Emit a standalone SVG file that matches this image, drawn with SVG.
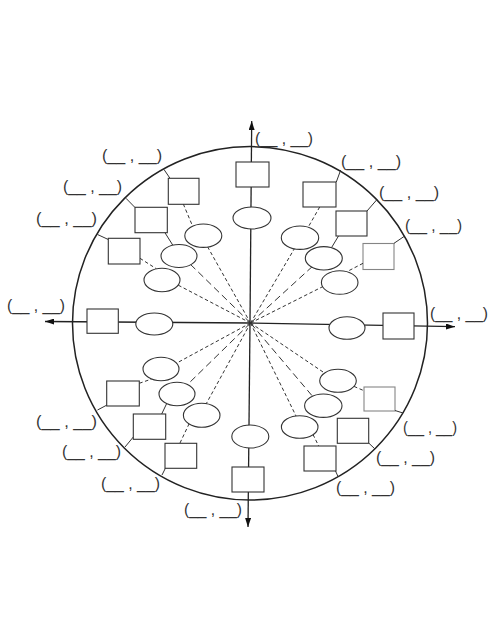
<svg xmlns="http://www.w3.org/2000/svg" width="497" height="640" viewBox="0 0 497 640">
<style>
.box{fill:#fff;stroke:#333;stroke-width:1.1}
.ell{fill:#fff;stroke:#333;stroke-width:1.1}
.axis{stroke:#222;stroke-width:1.3;fill:none}
.sd{stroke:#333;stroke-width:1;stroke-dasharray:3.5 2.5;fill:none}
.ld{stroke:#333;stroke-width:1;stroke-dasharray:7 4;fill:none}
.sl{stroke:#333;stroke-width:1;fill:none}
.lbl{font-family:"Liberation Sans",Arial,sans-serif;font-size:16px;fill:#333}
</style>
<defs>
<marker id="arr" markerWidth="9" markerHeight="6" refX="9" refY="3" orient="auto" markerUnits="userSpaceOnUse">
<path d="M0,0 L9,3 L0,6 z" fill="#111"/>
</marker>
</defs>
<rect width="497" height="640" fill="#fff"/>
<g id="circle">
<ellipse cx="250" cy="323.3" rx="177.5" ry="176.7" fill="none" stroke="#222" stroke-width="1.5"/>
</g>
<g id="connectors">
<line class="axis" x1="250" y1="323" x2="251.7" y2="121" marker-end="url(#arr)"/>
<line class="axis" x1="250" y1="323" x2="248" y2="527" marker-end="url(#arr)"/>
<line class="axis" x1="250" y1="323" x2="45" y2="321.5" marker-end="url(#arr)"/>
<line class="axis" x1="250" y1="323" x2="455" y2="326.7" marker-end="url(#arr)"/>
<line class="sd" x1="250.5" y1="323" x2="206" y2="244"/>
<line class="ld" x1="250.5" y1="323" x2="188" y2="262"/>
<line class="sd" x1="250.5" y1="323" x2="176" y2="284"/>
<line class="sd" x1="250.5" y1="323" x2="296" y2="246"/>
<line class="ld" x1="250.5" y1="323" x2="314" y2="265"/>
<line class="sd" x1="250.5" y1="323" x2="326" y2="285"/>
<line class="sd" x1="250.5" y1="323" x2="175" y2="364"/>
<line class="ld" x1="250.5" y1="323" x2="185" y2="387"/>
<line class="sd" x1="250.5" y1="323" x2="205" y2="406"/>
<line class="sd" x1="250.5" y1="323" x2="326" y2="374"/>
<line class="ld" x1="250.5" y1="323" x2="314" y2="398"/>
<line class="sd" x1="250.5" y1="323" x2="297" y2="418"/>
<line class="sd" x1="183.3" y1="204" x2="191.7" y2="224"/>
<line class="sl" x1="164.5" y1="232" x2="173" y2="245.5"/>
<line class="sd" x1="140" y1="258.3" x2="156.7" y2="269"/>
<line class="sd" x1="319.7" y1="207" x2="308" y2="227.5"/>
<line class="sl" x1="338.5" y1="236" x2="331.3" y2="248"/>
<line class="sd" x1="363" y1="263.3" x2="346.3" y2="272"/>
<line class="sd" x1="139.3" y1="383.3" x2="151.7" y2="379"/>
<line class="sl" x1="161.7" y1="414" x2="166.7" y2="403.5"/>
<line class="sd" x1="180" y1="443" x2="189" y2="424"/>
<line class="sd" x1="354" y1="386.4" x2="364" y2="390.7"/>
<line class="sd" x1="313" y1="434.5" x2="318.7" y2="446"/>
<line class="sl" x1="164" y1="169.5" x2="170" y2="178.3"/>
<line class="sl" x1="126" y1="198.3" x2="135" y2="207.5"/>
<line class="sl" x1="97.5" y1="234.5" x2="108.3" y2="239.5"/>
<line class="sl" x1="336.3" y1="182" x2="340.7" y2="170"/>
<line class="sl" x1="367" y1="211" x2="377" y2="199.5"/>
<line class="sl" x1="394" y1="243.3" x2="404" y2="236.5"/>
<line class="sl" x1="107" y1="405" x2="97.5" y2="410"/>
<line class="sl" x1="133.3" y1="437" x2="125" y2="447"/>
<line class="sl" x1="165.5" y1="468" x2="162" y2="475"/>
<line class="sl" x1="395" y1="410.5" x2="403" y2="413"/>
<line class="sl" x1="368.7" y1="443" x2="375" y2="449"/>
<line class="sl" x1="335.5" y1="471" x2="338" y2="476.5"/>
</g>
<g id="n90"><rect class="box" x="236" y="162" width="33" height="25"/><ellipse class="ell" cx="252" cy="218" rx="19" ry="11"/><text class="lbl" x="255" y="143.5" textLength="58" lengthAdjust="spacingAndGlyphs">(__ , __)</text></g>
<g id="n60"><rect class="box" x="303" y="182" width="33" height="25"/><ellipse class="ell" cx="300" cy="237.7" rx="18.7" ry="11.7"/><text class="lbl" x="341" y="166.5" textLength="60" lengthAdjust="spacingAndGlyphs">(__ , __)</text></g>
<g id="n45"><rect class="box" x="336" y="211" width="31" height="25"/><ellipse class="ell" cx="323.8" cy="258.3" rx="18.5" ry="11.7"/><text class="lbl" x="379" y="198" textLength="60" lengthAdjust="spacingAndGlyphs">(__ , __)</text></g>
<g id="n30"><rect class="box" x="363" y="243.5" width="31" height="26" stroke-opacity="0.6"/><ellipse class="ell" cx="339.7" cy="282.5" rx="18.3" ry="11.8"/><text class="lbl" x="405" y="230.5" textLength="57" lengthAdjust="spacingAndGlyphs">(__ , __)</text></g>
<g id="n0"><rect class="box" x="383" y="313" width="31" height="26"/><ellipse class="ell" cx="347" cy="328" rx="18" ry="11.2"/><text class="lbl" x="430" y="318.5" textLength="58" lengthAdjust="spacingAndGlyphs">(__ , __)</text></g>
<g id="n330"><rect class="box" x="364" y="387" width="31" height="24" stroke-opacity="0.6"/><ellipse class="ell" cx="338" cy="380.8" rx="18.3" ry="11.5"/><text class="lbl" x="403" y="433" textLength="54" lengthAdjust="spacingAndGlyphs">(__ , __)</text></g>
<g id="n315"><rect class="box" x="337.3" y="418.3" width="31.4" height="25"/><ellipse class="ell" cx="323.3" cy="405.7" rx="18.7" ry="11.7"/><text class="lbl" x="376" y="463" textLength="59" lengthAdjust="spacingAndGlyphs">(__ , __)</text></g>
<g id="n300"><rect class="box" x="304" y="446" width="32" height="25"/><ellipse class="ell" cx="299.7" cy="427" rx="18.3" ry="11.3"/><text class="lbl" x="336" y="493" textLength="59" lengthAdjust="spacingAndGlyphs">(__ , __)</text></g>
<g id="n270"><rect class="box" x="232" y="467" width="32" height="25"/><ellipse class="ell" cx="250.3" cy="436.5" rx="18.5" ry="11.5"/><text class="lbl" x="184" y="514.5" textLength="58" lengthAdjust="spacingAndGlyphs">(__ , __)</text></g>
<g id="n240"><rect class="box" x="165" y="443.3" width="31.7" height="25"/><ellipse class="ell" cx="201.7" cy="415.3" rx="18.3" ry="12"/><text class="lbl" x="101" y="489" textLength="59" lengthAdjust="spacingAndGlyphs">(__ , __)</text></g>
<g id="n225"><rect class="box" x="133.3" y="414" width="32.4" height="25.3"/><ellipse class="ell" cx="177" cy="394" rx="18" ry="11.7"/><text class="lbl" x="62" y="457" textLength="59" lengthAdjust="spacingAndGlyphs">(__ , __)</text></g>
<g id="n210"><rect class="box" x="106.7" y="381" width="32.6" height="25"/><ellipse class="ell" cx="161" cy="369" rx="18" ry="11.7"/><text class="lbl" x="36" y="426.5" textLength="61" lengthAdjust="spacingAndGlyphs">(__ , __)</text></g>
<g id="n180"><rect class="box" x="87" y="309" width="31.3" height="24.3"/><ellipse class="ell" cx="154.3" cy="324" rx="18.5" ry="11"/><text class="lbl" x="7" y="310.5" textLength="58" lengthAdjust="spacingAndGlyphs">(__ , __)</text></g>
<g id="n150"><rect class="box" x="108.3" y="238.3" width="31.7" height="25.7"/><ellipse class="ell" cx="162" cy="280" rx="18" ry="11.7"/><text class="lbl" x="36" y="223.5" textLength="61" lengthAdjust="spacingAndGlyphs">(__ , __)</text></g>
<g id="n135"><rect class="box" x="135" y="207.3" width="32.3" height="25.4"/><ellipse class="ell" cx="179" cy="256" rx="18" ry="11.5"/><text class="lbl" x="63" y="191.5" textLength="59" lengthAdjust="spacingAndGlyphs">(__ , __)</text></g>
<g id="n120"><rect class="box" x="168.3" y="178.3" width="30.7" height="26"/><ellipse class="ell" cx="203.3" cy="235.7" rx="18.5" ry="11.7"/><text class="lbl" x="102" y="160.5" textLength="60" lengthAdjust="spacingAndGlyphs">(__ , __)</text></g>
</svg>
